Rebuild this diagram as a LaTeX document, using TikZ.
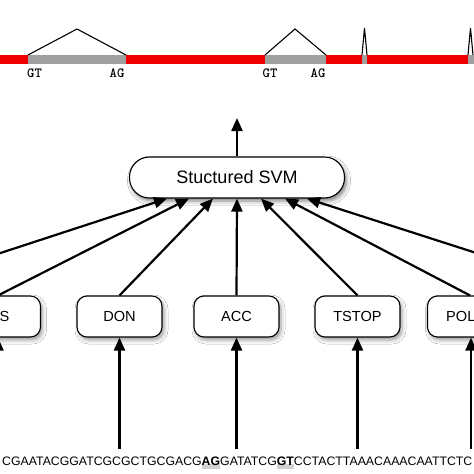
\documentclass[tikz,border=0pt]{standalone}
\usepackage{fontspec}
\setmainfont{Liberation Sans}
\usetikzlibrary{arrows.meta,shadows.blur}
\definecolor{barred}{RGB}{238,0,0}
\definecolor{introngray}{RGB}{160,160,160}
\newcommand{\sighl}[1]{\setbox0\hbox{\bfseries #1}\rlap{\textcolor{black!18}{\rule[-3.5pt]{\wd0}{4.5pt}}}\box0}
\begin{document}
\begin{tikzpicture}[x=1pt,y=-1pt,
  conn/.style={line width=2.2pt, -{Triangle[length=13pt,width=11pt]}},
  svmbox/.style={draw, line width=1.1pt, fill=white, rounded corners=20pt,
    minimum width=215pt, minimum height=41pt, inner sep=0pt,
    font=\fontsize{18}{20}\selectfont,
    blur shadow={shadow xshift=2pt, shadow yshift=-3pt, shadow blur radius=4pt, shadow opacity=50}},
  sigbox/.style={draw, line width=1.1pt, fill=white, rounded corners=10pt,
    minimum width=85pt, minimum height=41pt, inner sep=0pt,
    font=\fontsize{14.6}{16}\selectfont,
    blur shadow={shadow xshift=2pt, shadow yshift=-3pt, shadow blur radius=4pt, shadow opacity=40}},
  sitelab/.style={inner sep=0pt, font=\ttfamily\bfseries\fontsize{14}{15}\selectfont},
  seqtext/.style={inner sep=0pt, anchor=base west, font=\fontsize{12.3}{14}\selectfont},
  intronline/.style={line width=1.1pt}
]
\useasboundingbox (0,0) rectangle (474,474);
\clip (0,0) rectangle (474,474);
\fill[white] (0,0) rectangle (474,474);

% gene structure bar
\fill[barred] (0,54.5) rectangle (474,64);
\fill[introngray] (28,54.5) rectangle (126,64);
\fill[introngray] (265,54.5) rectangle (326,64);
\fill[introngray] (362,54.5) rectangle (367,64);
\fill[introngray] (468,54.5) rectangle (474,64);
\draw[intronline] (28,55) -- (77,29) -- (126,55);
\draw[intronline] (265,55) -- (295,29) -- (326,55);
\draw[intronline] (362,55) -- (364.5,28) -- (367,55);
\draw[intronline] (468,55) -- (470.5,28) -- (473,55);
\node[sitelab] (gt1) at (34.5,73.5) {GT};
\node[sitelab] (ag1) at (117,73.5) {AG};
\node[sitelab] (gt2) at (270,73.5) {GT};
\node[sitelab] (ag2) at (318,73.5) {AG};

% structured SVM
\node[svmbox] (svm) at (237,177.5) {Stuctured SVM};
\coordinate (out) at (237,118);
\draw[conn] (svm.north) -- (out);

% signal nodes
\node[sigbox] (tis) at (-2,316.5) {\phantom{TI}S};
\node[sigbox] (don) at (119.5,316.5) {DON};
\node[sigbox] (acc) at (236.5,316.5) {ACC};
\node[sigbox] (tstop) at (357.5,316.5) {TSTOP};
\node[sigbox] (pol) at (470,316.5) {POL\phantom{YA}};
\coordinate (farleft) at (-131,296);
\coordinate (farright) at (610,296);

% arrows into SVM
\draw[conn] (farleft) -- ([xshift=-70pt]svm.south);
\draw[conn] (tis.north) -- ([xshift=-48pt]svm.south);
\draw[conn] (don.north) -- ([xshift=-24pt]svm.south);
\draw[conn] (acc.north) -- (svm.south);
\draw[conn] (tstop.north) -- ([xshift=24pt]svm.south);
\draw[conn] (pol.north) -- ([xshift=48pt]svm.south);
\draw[conn] (farright) -- ([xshift=70pt]svm.south);

% sequence
\node[seqtext] (seq) at (2,465) {CGAATACGGATCGCGCTGCGACG\sighl{AG}GATATCG\sighl{GT}CCTACTTAAACAAACAATTCTC};
\coordinate (b1) at (-2,449);
\coordinate (b2) at (119.5,449);
\coordinate (b3) at (236.5,449);
\coordinate (b4) at (357.5,449);
\coordinate (b5) at (471,449);
\draw[conn] (b1) -- (tis.south);
\draw[conn] (b2) -- (don.south);
\draw[conn] (b3) -- (acc.south);
\draw[conn] (b4) -- (tstop.south);
\draw[conn] (b5) -- (b5 |- pol.south);
\end{tikzpicture}
\end{document}
